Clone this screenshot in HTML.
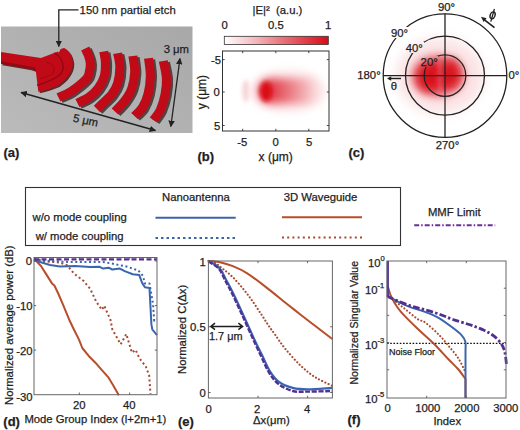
<!DOCTYPE html>
<html><head><meta charset="utf-8">
<style>
html,body{margin:0;padding:0;background:#fff;}
body{width:520px;height:430px;overflow:hidden;}
svg{display:block;}
text{font-family:"Liberation Sans",sans-serif;fill:#1e1e1e;stroke:#1e1e1e;stroke-width:0.25px;}
</style></head>
<body>
<svg width="520" height="430" viewBox="0 0 520 430">
<defs>
  <linearGradient id="gbg" x1="0" y1="1" x2="1" y2="0">
    <stop offset="0" stop-color="#bbbbbb"/>
    <stop offset="1" stop-color="#a8a8a8"/>
  </linearGradient>
  <linearGradient id="cbar" x1="0" y1="0" x2="1" y2="0">
    <stop offset="0" stop-color="#ffffff"/>
    <stop offset="0.3" stop-color="#f4b8bc"/>
    <stop offset="0.55" stop-color="#ea747c"/>
    <stop offset="0.8" stop-color="#e23844"/>
    <stop offset="1" stop-color="#dc0a18"/>
  </linearGradient>
  <filter id="blur2" x="-50%" y="-50%" width="200%" height="200%"><feGaussianBlur stdDeviation="2"/></filter>
  <filter id="blur4" x="-50%" y="-50%" width="200%" height="200%"><feGaussianBlur stdDeviation="4"/></filter>
  <filter id="blur3" x="-50%" y="-50%" width="200%" height="200%"><feGaussianBlur stdDeviation="3"/></filter>
  <filter id="blur6" x="-50%" y="-50%" width="200%" height="200%"><feGaussianBlur stdDeviation="6"/></filter>
  <filter id="blur1" x="-20%" y="-20%" width="140%" height="140%"><feGaussianBlur stdDeviation="0.6"/></filter>
  <radialGradient id="polarg" cx="0.5" cy="0.5" r="0.5">
    <stop offset="0" stop-color="#d80c1c"/>
    <stop offset="0.45" stop-color="#dc1c2a"/>
    <stop offset="0.72" stop-color="#e66a72"/>
    <stop offset="0.9" stop-color="#f4b8bc"/>
    <stop offset="1" stop-color="#fbe0e2" stop-opacity="0"/>
  </radialGradient>
  <clipPath id="clipb"><rect x="222.5" y="51" width="106.5" height="80"/></clipPath>
  <clipPath id="clipa"><rect x="0" y="26.5" width="192.5" height="107"/></clipPath>
  <marker id="ah" viewBox="0 0 10 10" refX="9" refY="5" markerWidth="5" markerHeight="5" orient="auto-start-reverse">
    <path d="M0,0 L10,5 L0,10 z" fill="#222"/>
  </marker>
  <mask id="polmask" maskUnits="userSpaceOnUse" x="0" y="0" width="520" height="430">
    <rect x="0" y="0" width="520" height="430" fill="#fff"/>
    <rect x="390" y="27" width="20" height="11" fill="#000"/>
    <rect x="405" y="42" width="19" height="11" fill="#000"/>
    <rect x="420" y="56" width="18" height="11" fill="#000"/>
  </mask>
  <linearGradient id="hbody" x1="0" y1="0" x2="1" y2="0">
    <stop offset="0" stop-color="#dc1a2a"/>
    <stop offset="0.35" stop-color="#e65862"/>
    <stop offset="0.7" stop-color="#f0a0a6"/>
    <stop offset="1" stop-color="#fbe4e6"/>
  </linearGradient>
</defs>

<!-- ============ PANEL A ============ -->
<rect x="1" y="26.5" width="191.5" height="106.5" fill="url(#gbg)"/>
<g clip-path="url(#clipa)">
  <g stroke="#4e4444" stroke-width="9" fill="none" transform="translate(2.2,1.5)"><path d="M85.2,48.5 C85.8,49.8 87.8,53.5 88.6,56.0 C89.4,58.5 90.2,60.7 90.3,63.4 C90.4,66.1 90.0,69.4 89.3,72.0 C88.6,74.6 89.2,75.8 86.2,79.0 C83.2,82.2 75.6,88.3 71.0,91.4 C66.4,94.5 60.5,96.5 58.5,97.5"/><path d="M103.7,51.5 C104.0,53.3 105.3,58.2 105.4,62.4 C105.5,66.5 105.4,72.1 104.2,76.4 C103.0,80.8 100.6,85.0 98.0,88.5 C95.4,92.0 91.9,95.1 88.5,97.5 C85.1,99.9 79.2,102.1 77.4,103.0"/><path d="M117.6,53.2 C118.0,55.5 119.8,61.8 119.8,66.8 C119.8,71.8 119.0,78.8 117.6,83.4 C116.2,88.0 114.2,91.1 111.6,94.5 C109.0,97.9 104.4,101.6 102.0,104.0 C99.6,106.4 97.8,108.2 97.0,109.0"/><path d="M132.9,55.9 C133.2,58.6 134.9,66.5 134.7,72.0 C134.5,77.5 133.3,83.8 131.7,88.6 C130.0,93.4 127.4,97.2 124.6,101.0 C121.8,104.8 116.6,109.8 115.0,111.5"/><path d="M148.5,58.2 C148.8,61.2 150.4,70.1 150.3,76.0 C150.2,81.9 149.4,88.3 148.1,93.6 C146.8,98.8 144.8,103.8 142.5,107.5 C140.2,111.2 135.8,114.6 134.5,116.0"/><path d="M163.3,60.9 C163.8,63.8 166.1,72.5 166.4,78.0 C166.7,83.5 166.1,88.7 165.1,94.0 C164.1,99.3 162.2,105.7 160.3,110.0 C158.4,114.3 154.6,118.3 153.5,120.0"/></g>
  <g stroke="#c00a18" stroke-width="9" fill="none"><path d="M85.2,48.5 C85.8,49.8 87.8,53.5 88.6,56.0 C89.4,58.5 90.2,60.7 90.3,63.4 C90.4,66.1 90.0,69.4 89.3,72.0 C88.6,74.6 89.2,75.8 86.2,79.0 C83.2,82.2 75.6,88.3 71.0,91.4 C66.4,94.5 60.5,96.5 58.5,97.5"/><path d="M103.7,51.5 C104.0,53.3 105.3,58.2 105.4,62.4 C105.5,66.5 105.4,72.1 104.2,76.4 C103.0,80.8 100.6,85.0 98.0,88.5 C95.4,92.0 91.9,95.1 88.5,97.5 C85.1,99.9 79.2,102.1 77.4,103.0"/><path d="M117.6,53.2 C118.0,55.5 119.8,61.8 119.8,66.8 C119.8,71.8 119.0,78.8 117.6,83.4 C116.2,88.0 114.2,91.1 111.6,94.5 C109.0,97.9 104.4,101.6 102.0,104.0 C99.6,106.4 97.8,108.2 97.0,109.0"/><path d="M132.9,55.9 C133.2,58.6 134.9,66.5 134.7,72.0 C134.5,77.5 133.3,83.8 131.7,88.6 C130.0,93.4 127.4,97.2 124.6,101.0 C121.8,104.8 116.6,109.8 115.0,111.5"/><path d="M148.5,58.2 C148.8,61.2 150.4,70.1 150.3,76.0 C150.2,81.9 149.4,88.3 148.1,93.6 C146.8,98.8 144.8,103.8 142.5,107.5 C140.2,111.2 135.8,114.6 134.5,116.0"/><path d="M163.3,60.9 C163.8,63.8 166.1,72.5 166.4,78.0 C166.7,83.5 166.1,88.7 165.1,94.0 C164.1,99.3 162.2,105.7 160.3,110.0 C158.4,114.3 154.6,118.3 153.5,120.0"/></g>
  <path d="M1,52.1 L40.9,57.9 L58.1,51.5 L58.8,52.8 L60.7,49 L63.9,47.9 C68.4,49.6 72,55 72.8,62.4 C73,72 66,80 58.1,85.4 C52,88 46,90 38.3,91.8 L35.8,70.7 L30,68.8 L1,63.7 Z" fill="#5c2a2a" transform="translate(1.5,1.5)"/>
  <path d="M1,52.1 L40.9,57.9 L58.1,51.5 L58.8,52.8 L60.7,49 L63.9,47.9 C68.4,49.6 72,55 72.8,62.4 C73,72 66,80 58.1,85.4 C52,88 46,90 38.3,91.8 L35.8,70.7 L30,68.8 L1,63.7 Z" fill="#c00a18"/>
  <path d="M1,61.2 L35.2,67.6 L35.8,70.7 L30,68.8 L1,63.7 Z" fill="#8e0a14"/>
  <path d="M54.3,52.8 C60,56 63.5,62 63.2,68.1 C62,73 59,76 56.9,77 C52,80 48,82 37,85.4" stroke="#8a0612" stroke-width="1.3" fill="none"/>
  <path d="M46,62.4 C52,63 56,67 53,73.2 C50,76 45,77.5 40.2,78.4" stroke="#a00814" stroke-width="1" fill="none"/>
</g>
<!-- arrows panel a -->
<path d="M78.5,9.9 L58.8,9.9 L58.8,46.5" stroke="#222" stroke-width="1.3" fill="none" marker-end="url(#ah)"/>
<text x="79.6" y="14" font-size="11.3">150 nm partial etch</text>
<line x1="21" y1="92.5" x2="155.5" y2="130.5" stroke="#222" stroke-width="1.3" marker-start="url(#ah)" marker-end="url(#ah)"/>
<text x="73" y="124" font-size="11.3" transform="rotate(12 85 120)">5 μm</text>
<line x1="180" y1="58.5" x2="170.8" y2="126.5" stroke="#222" stroke-width="1.3" marker-start="url(#ah)" marker-end="url(#ah)"/>
<text x="163.7" y="53.3" font-size="11.3">3 μm</text>
<text x="3.5" y="157" font-size="13" font-weight="bold">(a)</text>

<!-- ============ PANEL B ============ -->
<text x="252.5" y="14" font-size="11.3">|E|²&#160;&#160;(a.u.)</text>
<text x="221.5" y="29" font-size="11.3">0</text>
<text x="268" y="29" font-size="11.3">0.5</text>
<text x="325" y="29" font-size="11.3">1</text>
<rect x="224.3" y="36.3" width="104" height="8.2" fill="url(#cbar)" stroke="#333" stroke-width="0.8"/>
<g clip-path="url(#clipb)">
  <rect x="222.5" y="51" width="106.5" height="80" fill="#fff"/>
  <ellipse cx="246" cy="91" rx="3.5" ry="11" fill="#f6d0d3" filter="url(#blur2)"/>
  <ellipse cx="288" cy="91" rx="38" ry="21" fill="#fde8ea" filter="url(#blur4)"/>
  <rect x="259" y="78.5" width="60" height="25" rx="12" fill="url(#hbody)" filter="url(#blur4)"/>
  <ellipse cx="266" cy="91.5" rx="6" ry="10" fill="#da0818" filter="url(#blur2)"/>
</g>
<rect x="222.5" y="51" width="106.5" height="80" fill="none" stroke="#333" stroke-width="1"/>
<text x="211" y="63.5" font-size="11.3">-5</text>
<text x="213.6" y="96" font-size="11.3">0</text>
<text x="214" y="129.5" font-size="11.3">5</text>
<text x="237.3" y="146" font-size="11.3">-5</text>
<text x="272.6" y="146" font-size="11.3">0</text>
<text x="306" y="146" font-size="11.3">5</text>
<text x="258.6" y="160.5" font-size="12">x (μm)</text>
<text transform="translate(205.8,109.2) rotate(-90)" font-size="12">y (μm)</text>
<text x="197.5" y="160.7" font-size="13" font-weight="bold">(b)</text>

<!-- ============ PANEL C ============ -->
<ellipse cx="440" cy="76" rx="44" ry="38" fill="#f9dcde" opacity="0.8" filter="url(#blur6)"/>
<ellipse cx="438" cy="76" rx="31" ry="25" fill="url(#polarg)" filter="url(#blur3)"/>
<ellipse cx="427" cy="78" rx="10" ry="13" fill="#d80818" opacity="0.75" filter="url(#blur4)"/>
<ellipse cx="452" cy="73" rx="8" ry="14" fill="#d80818" opacity="0.75" filter="url(#blur4)"/>
<ellipse cx="440" cy="76" rx="3" ry="16" fill="#fff" opacity="0.2" filter="url(#blur2)"/>
<g stroke="#222" stroke-width="1.3" fill="none" mask="url(#polmask)">
  <circle cx="445" cy="75.6" r="61.8"/>
  <circle cx="445" cy="75.6" r="39.5"/>
  <circle cx="445" cy="75.6" r="20.8"/>
  <line x1="383.2" y1="75.6" x2="506.8" y2="75.6"/>
  <line x1="445" y1="13.8" x2="445" y2="137.4"/>
</g>
<text x="438" y="10.5" font-size="11.3">90°</text>
<text x="508.4" y="79" font-size="11.3">0°</text>
<text x="357.3" y="79" font-size="11.3">180°</text>
<text x="435.8" y="148.5" font-size="11.3">270°</text>
<text x="391" y="36.6" font-size="11.3">90°</text>
<text x="405.7" y="51.7" font-size="11.3">40°</text>
<text x="420.6" y="65.6" font-size="11.3">20°</text>
<text x="390.8" y="90.4" font-size="11.3">θ</text>
<line x1="401" y1="78.5" x2="389" y2="78.5" stroke="#1e1e1e" stroke-width="1.4"/><path d="M387,78.5 L391.2,76.3 L391.2,80.7 Z" fill="#1e1e1e"/>
<ellipse cx="492.6" cy="15.3" rx="2.4" ry="3.5" transform="rotate(20 492.6 15.3)" fill="none" stroke="#222" stroke-width="1.4"/>
<line x1="494.4" y1="9" x2="490.8" y2="21.6" stroke="#222" stroke-width="1.3"/>
<line x1="494.5" y1="27.7" x2="483.5" y2="19.2" stroke="#222" stroke-width="1.7"/>
<path d="M481,16.7 L486.6,18.2 L483.6,22 Z" fill="#222"/>
<text x="348.5" y="156.5" font-size="13" font-weight="bold">(c)</text>

<!-- ============ LEGEND ============ -->
<rect x="25.5" y="187.5" width="375" height="58" fill="none" stroke="#333" stroke-width="1.1"/>
<text x="162" y="200.5" font-size="11.3">Nanoantenna</text>
<text x="283.7" y="200.5" font-size="11.3">3D Waveguide</text>
<text x="32.5" y="220.5" font-size="11.3">w/o mode coupling</text>
<text x="35.7" y="239.5" font-size="11.3">w/ mode coupling</text>
<line x1="155.5" y1="217.8" x2="235.7" y2="217.8" stroke="#3f63a8" stroke-width="2"/>
<line x1="155.5" y1="238" x2="235.7" y2="238" stroke="#3f63a8" stroke-width="2" stroke-dasharray="2.5,3"/>
<line x1="282" y1="217.2" x2="362" y2="217.2" stroke="#b84e2a" stroke-width="2"/>
<line x1="282" y1="237.5" x2="362" y2="237.5" stroke="#a84a30" stroke-width="2" stroke-dasharray="2,3.2"/>
<text x="427.9" y="215.5" font-size="11.3">MMF Limit</text>
<line x1="414.2" y1="225.2" x2="495.2" y2="225.2" stroke="#6a2e9a" stroke-width="2" stroke-dasharray="5,2,1.5,2"/>

<!-- ============ PANEL D ============ -->
<g fill="none" stroke-linejoin="round">
  <polyline stroke="#b84e2a" stroke-width="2" points="34,260 36.5,261.4 41,266 46.3,274.4 52,283.4 54.4,285.5 58,293 62.6,303.7 69,319.2 73.4,328.5 79.1,339.9 82.3,348 88.9,356.2 95.4,362.7 101,369.2 108.6,377.7 113,385 118.8,395.3"/>
  <polyline stroke="#a84a30" stroke-width="2" stroke-dasharray="2,2.6" points="34,260 45,261.5 60,262.5 67.5,265.5 74,273.6 83.7,281 90.3,289 96.2,301.6 101.9,309.8 104.3,305.7 106.7,311.4 110.5,320 112.3,329.3 120.7,344.2 126.3,334 131.9,352.6 135.6,349.8 139.3,358.1 145.8,366.5 149.2,375.8 150.5,394"/>
  <polyline stroke="#3a66b0" stroke-width="2" points="34,260 40,262 50,265 60,266.5 75,266 90,267.1 99.3,266.7 103,268.6 108.6,267.7 112.3,269.5 119.8,268.6 125.3,271.4 132.8,274.2 139.3,275.1 142,282.6 144.9,287.2 149.5,288.1 151.4,324.4 152.3,329.3 156,334 157,335"/>
  <polyline stroke="#3a66b0" stroke-width="2" stroke-dasharray="2,2.6" points="34,259 50,261 70,262 90,262 103,262 114.2,264 127.2,266.7 138.4,270.5 143,276 144.9,283.5 149.5,283.5 153,304 154.2,320.7 156.6,318.8"/>
  <line x1="34" y1="259.3" x2="157" y2="259.3" stroke="#5a2e8e" stroke-width="2.2" stroke-dasharray="5,2.5"/>
</g>
<rect x="34" y="257.5" width="123" height="137.2" fill="none" stroke="#666" stroke-width="1"/>
<text x="25.8" y="265" font-size="11.3">0</text>
<text x="16.3" y="310" font-size="11.3">-10</text>
<text x="16.3" y="355" font-size="11.3">-20</text>
<text x="16.3" y="400.8" font-size="11.3">-30</text>
<text x="73" y="409" font-size="11.3">20</text>
<text x="122.9" y="409" font-size="11.3">40</text>
<text transform="translate(13,405) rotate(-90)" font-size="11.3">Normalized average power (dB)</text>
<text x="24.4" y="422.5" font-size="11.3">Mode Group Index (l+2m+1)</text>
<text x="3.3" y="425.5" font-size="13" font-weight="bold">(d)</text>

<!-- ============ PANEL E ============ -->
<g fill="none" stroke-linejoin="round">
  <path stroke="#b84e2a" stroke-width="2" d="M208.4,260.9 C210.2,261.1 214.9,261.1 219.0,262.0 C223.1,262.9 228.3,264.3 232.9,266.2 C237.5,268.1 241.5,269.7 246.8,273.1 C252.2,276.5 258.3,281.2 265.0,286.4 C271.7,291.5 281.2,299.4 287.0,304.0 C292.8,308.6 295.2,310.4 300.0,314.2 C304.8,317.9 310.6,322.4 316.0,326.5 C321.4,330.6 329.6,336.9 332.3,339.0"/>
  <path stroke="#a84a30" stroke-width="2.1" stroke-linecap="round" stroke-dasharray="0.1,3.4" d="M208.4,260.9 C209.5,261.2 212.4,261.3 214.8,262.7 C217.2,264.1 220.1,266.6 223.1,269.0 C226.1,271.4 229.4,273.8 232.9,277.3 C236.4,280.8 240.8,285.9 244.0,289.9 C247.2,293.8 249.6,297.1 252.4,301.0 C255.2,304.9 258.2,309.7 260.8,313.6 C263.4,317.5 265.5,321.0 267.9,324.6 C270.3,328.2 272.4,331.0 275.3,335.0 C278.2,339.0 281.0,343.6 285.1,348.6 C289.2,353.6 295.1,360.4 300.2,365.2 C305.2,370.0 310.0,373.9 315.4,377.3 C320.8,380.7 329.5,384.4 332.3,385.8"/>
  <path stroke="#3a66b0" stroke-width="2.2" d="M208.4,260.9 C210.3,262.1 216.7,265.1 219.6,268.2 C222.5,271.3 223.7,275.3 225.9,279.4 C228.1,283.5 230.1,287.0 232.9,292.7 C235.7,298.4 239.2,306.0 242.7,313.6 C246.2,321.2 250.8,331.7 254.0,338.6 C257.2,345.5 259.3,349.6 262.0,355.0 C264.7,360.4 267.2,366.8 270.0,371.3 C272.8,375.8 275.2,379.1 279.0,381.9 C282.8,384.7 287.9,386.6 292.7,387.9 C297.5,389.1 301.2,389.4 307.8,389.4 C314.4,389.4 328.2,388.1 332.3,387.9"/>
  <path stroke="#4e3294" stroke-width="2.4" stroke-dasharray="5,1.6" d="M208.4,261.3 C210.2,262.6 216.2,265.8 219.0,269.0 C221.8,272.2 223.0,276.3 225.2,280.4 C227.4,284.5 229.4,288.0 232.2,293.7 C235.0,299.4 238.5,307.0 242.0,314.6 C245.5,322.2 250.1,332.6 253.3,339.6 C256.5,346.6 258.6,350.9 261.3,356.5 C264.0,362.1 266.4,368.4 269.3,373.0 C272.2,377.6 274.6,381.0 278.5,384.0 C282.4,387.0 287.8,389.7 292.7,391.0 C297.6,392.3 301.2,391.6 307.8,391.6 C314.4,391.6 328.2,391.1 332.3,391.0"/>
</g>
<rect x="208.4" y="261" width="124" height="137" fill="none" stroke="#666" stroke-width="1"/>
<text x="199.5" y="266" font-size="11.3">1</text>
<text x="190" y="330.5" font-size="11.3">0.5</text>
<text x="199.5" y="396.5" font-size="11.3">0</text>
<text x="205.5" y="412.5" font-size="11.3">0</text>
<text x="254" y="412.5" font-size="11.3">2</text>
<text x="304" y="412.5" font-size="11.3">4</text>
<path d="M210.8,326.4 H242.6 M215,323.2 L210.8,326.4 L215,329.6 M238.4,323.2 L242.6,326.4 L238.4,329.6" stroke="#1e1e1e" stroke-width="1.5" fill="none"/>
<text x="209" y="340.3" font-size="10.9">1.7 μm</text>
<text transform="translate(186.2,374) rotate(-90)" font-size="11.3">Normalized C(Δx)</text>
<text x="253" y="424" font-size="11.3">Δx(μm)</text>
<text x="178" y="425.5" font-size="13" font-weight="bold">(e)</text>

<path d="M79.3,394.7 v-2.2 M79.3,257.5 v2.2 M129.6,394.7 v-2.2 M129.6,257.5 v2.2 M34,261 h2.2 M157,261 h-2.2 M34,305.6 h2.2 M157,305.6 h-2.2 M34,350.1 h2.2 M157,350.1 h-2.2" stroke="#555" stroke-width="0.9" fill="none"/>
<path d="M258,398 v-2.2 M258,261 v2.2 M307.6,398 v-2.2 M307.6,261 v2.2 M208.4,326.75 h2.2 M332.4,326.75 h-2.2 M208.4,392.5 h2.2 M332.4,392.5 h-2.2" stroke="#555" stroke-width="0.9" fill="none"/>
<path d="M426.7,398 v-2.2 M426.7,261 v2.2 M466.3,398 v-2.2 M466.3,261 v2.2 M387,288.2 h2.2 M506,288.2 h-2.2 M387,315.4 h2.2 M506,315.4 h-2.2 M387,342.6 h2.2 M506,342.6 h-2.2 M387,369.8 h2.2 M506,369.8 h-2.2" stroke="#555" stroke-width="0.9" fill="none"/>
<path d="M242.7,131 v-2.2 M242.7,51 v2.2 M275.8,131 v-2.2 M275.8,51 v2.2 M308.8,131 v-2.2 M308.8,51 v2.2 M222.5,59.6 h2.2 M329,59.6 h-2.2 M222.5,92 h2.2 M329,92 h-2.2 M222.5,125.5 h2.2 M329,125.5 h-2.2" stroke="#333" stroke-width="0.9" fill="none"/>
<!-- ============ PANEL F ============ -->
<g fill="none" stroke-linejoin="round">
  <line x1="387" y1="343.3" x2="506" y2="343.3" stroke="#111" stroke-width="1.3" stroke-dasharray="1.6,1.6"/>
  <path stroke="#b84e2a" stroke-width="2" d="M387.5,285.8 C387.8,286.8 388.9,290.1 389.5,292.0 C390.1,293.9 390.1,294.6 391.4,297.0 C392.6,299.4 394.9,303.7 397.0,306.7 C399.1,309.7 400.4,311.4 403.9,315.1 C407.4,318.8 413.0,324.3 417.9,329.0 C422.8,333.7 428.3,338.1 433.4,343.2 C438.5,348.3 444.6,355.2 448.7,359.5 C452.8,363.8 455.2,365.8 458.0,369.0 C460.8,372.2 464.2,377.3 465.5,379.0 L465.5,398"/>
  <path stroke="#a84a30" stroke-width="2.1" stroke-linecap="round" stroke-dasharray="0.1,3.4" d="M387.5,296.0 C388.1,296.4 388.7,296.3 391.4,298.3 C394.1,300.3 399.5,304.6 403.9,308.1 C408.3,311.6 414.4,316.9 417.9,319.3 C421.4,321.7 421.5,319.7 425.0,322.3 C428.5,324.9 435.1,330.9 439.0,334.9 C442.9,338.8 445.4,342.1 448.7,346.0 C451.9,349.9 455.7,354.2 458.5,358.6 C461.3,363.0 464.3,369.9 465.5,372.2"/>
  <path stroke="#3a66b0" stroke-width="2" d="M387.5,296.2 C389.1,297.0 393.1,299.2 397.0,301.1 C400.9,303.0 406.2,305.6 410.9,307.4 C415.6,309.2 420.3,310.1 425.0,311.9 C429.7,313.7 434.4,315.4 439.0,318.1 C443.6,320.8 449.2,325.1 452.9,327.9 C456.6,330.7 459.2,332.6 461.3,334.9 C463.4,337.2 464.7,339.3 465.4,341.8 C466.1,344.3 465.5,348.6 465.5,350.0 L465.5,398"/>
  <line x1="387.8" y1="261" x2="387.8" y2="296" stroke="#4a3090" stroke-width="2.2"/>
  <path stroke="#52308e" stroke-width="2.8" stroke-dasharray="7,2.2,2.5,2.2" d="M387.5,295.6 C388.1,296.1 387.5,296.6 391.4,298.3 C395.3,300.0 405.3,304.1 410.9,306.0 C416.5,307.9 420.3,308.5 425.0,309.8 C429.7,311.1 434.4,312.4 439.0,314.0 C443.6,315.6 447.7,317.7 452.9,319.5 C458.1,321.3 464.8,323.0 470.0,324.8 C475.2,326.6 480.1,328.5 484.0,330.3 C487.9,332.1 490.9,333.8 493.7,335.9 C496.5,338.0 498.9,340.6 500.7,342.9 C502.4,345.2 503.4,347.6 504.2,349.9 C505.0,352.2 505.2,354.2 505.6,356.8 C506.0,359.4 506.4,363.8 506.5,365.2"/>
</g>
<rect x="387" y="261" width="119" height="137" fill="none" stroke="#666" stroke-width="1"/>
<text x="368" y="267" font-size="11.3">10<tspan dy="-6.3" font-size="7.6">0</tspan></text>
<text x="365" y="294.3" font-size="11.3">10<tspan dy="-6.3" font-size="7.6">-1</tspan></text>
<text x="365" y="348.8" font-size="11.3">10<tspan dy="-6.3" font-size="7.6">-3</tspan></text>
<text x="365" y="403" font-size="11.3">10<tspan dy="-6.3" font-size="7.6">-5</tspan></text>
<text x="384.5" y="412" font-size="11.3">0</text>
<text x="415.2" y="412" font-size="11.3">1000</text>
<text x="454.3" y="412" font-size="11.3">2000</text>
<text x="493.2" y="412" font-size="11.3">3000</text>
<text x="389" y="355" font-size="9">Noise Floor</text>
<text transform="translate(358,384.5) rotate(-90)" font-size="10.5">Normalized Singular Value</text>
<text x="433.4" y="425" font-size="11.3">Index</text>
<text x="347.5" y="424" font-size="13" font-weight="bold">(f)</text>
</svg>
</body></html>
